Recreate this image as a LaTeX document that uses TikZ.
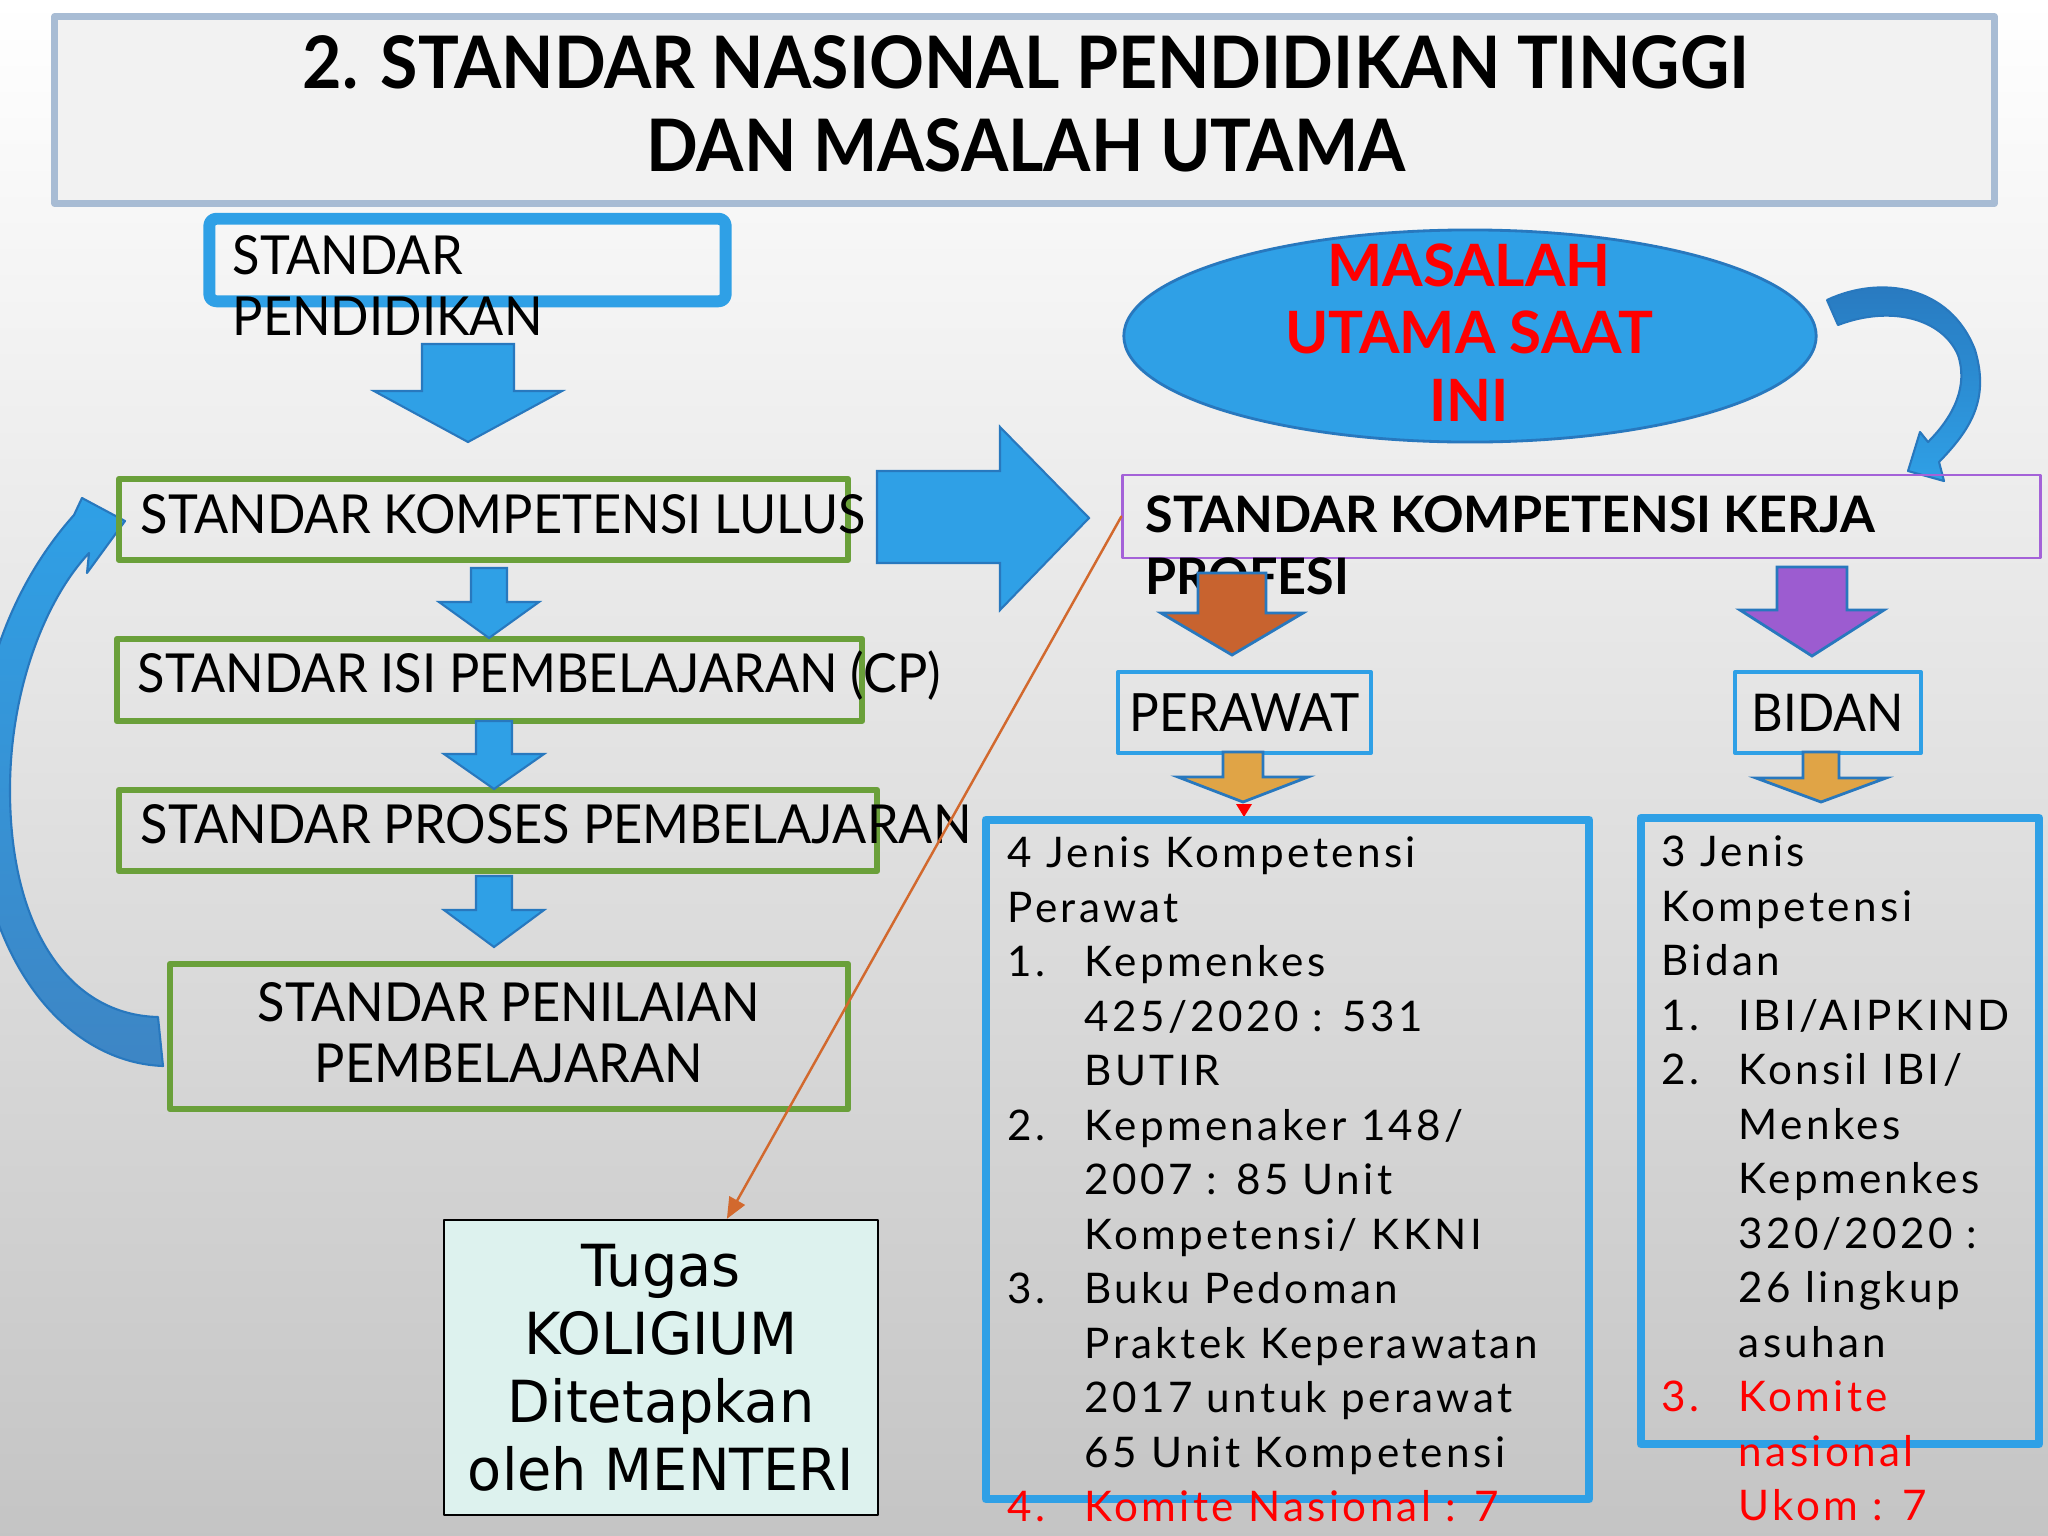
\documentclass[tikz,border=0pt]{standalone}
\usepackage{fontspec}
\setmainfont{Lato}
\newfontfamily\bodyfont{Lato}[FakeStretch=0.94]
\newfontfamily\listfont{Lato}[LetterSpace=8]
\newfontfamily\tugasfont{DejaVu Sans}[FakeStretch=0.96]
\usetikzlibrary{shapes.geometric,arrows.meta,calc}
\definecolor{biru}{HTML}{2FA0E6}
\definecolor{birutua}{HTML}{2878BE}
\definecolor{hijau}{HTML}{6AA03A}
\definecolor{judulbiru}{HTML}{A8BCD4}
\definecolor{oranye}{HTML}{C8632F}
\definecolor{ungu}{HTML}{9C5CD0}
\definecolor{emas}{HTML}{E0A446}
\definecolor{garisungu}{HTML}{A462D8}
\definecolor{mint}{HTML}{DDF2EE}
\definecolor{garisoranye}{HTML}{D2692E}
\tikzset{
	kotakhijau/.style={draw=hijau,line width=1.7pt,inner sep=0pt,outer sep=0pt},
	kotakbiru/.style={draw=biru,line width=1.1pt,inner sep=0pt,outer sep=0pt},
	kotakdaftar/.style={draw=biru,line width=2.4pt,inner sep=0pt,outer sep=0pt},
	teks/.style={inner sep=0pt,font=\bodyfont\fontsize{15.3}{17.4}\selectfont},
	daftar/.style={inner sep=0pt,align=left,font=\listfont\fontsize{12}{15.5}\selectfont},
	panahbiru/.style={fill=biru,draw=birutua,line width=0.6pt,line join=miter},
	panahoranye/.style={fill=oranye,draw=birutua,line width=0.8pt,line join=miter},
	panahungu/.style={fill=ungu,draw=birutua,line width=0.8pt,line join=miter},
	panahemas/.style={fill=emas,draw=birutua,line width=0.8pt,line join=miter}
}
\newcommand{\nomor}[1]{\makebox[21.9pt][l]{#1}}
\newcommand{\lanjut}{\hspace*{21.9pt}}
\begin{document}
\begin{tikzpicture}[x=0.01cm,y=-0.01cm,line join=round,line cap=round]
	\def\panah#1#2#3#4#5#6#7{% gaya, x tengah, atas, setengah batang, leher, setengah kepala, ujung
		\draw[#1] ({#2-#4},#3) -- ({#2+#4},#3) -- ({#2+#4},#5) -- ({#2+#6},#5) -- (#2,#7) -- ({#2-#6},#5) -- ({#2-#4},#5) -- cycle;}
	\useasboundingbox (0,0) rectangle (2048,1536);
	% latar
	\shade[top color=white,bottom color=black!23] (0,0) rectangle (2048,1536);
	% judul
	\node[draw=judulbiru,fill=black!5,line width=2pt,minimum width=19.38cm,minimum height=1.87cm,inner sep=0pt] (judul) at (1024.5,110) {};
	\node[anchor=north,inner sep=0pt,align=center,font=\bodyfont\bfseries\fontsize{20.6}{23.6}\selectfont] (judultxt) at (1026,35) {2. STANDAR NASIONAL PENDIDIKAN TINGGI\\DAN MASALAH UTAMA};
	% panah lengkung kiri
	\path[draw=birutua,line width=0.6pt,top color=biru,bottom color=birutua!90] (163,1066) .. controls (60,1062) and (-24,950) .. (-24,790) .. controls (-24,660) and (25,570) .. (74,515)
	-- (82,498) -- (125,521) -- (87,573) -- (89,553)
	.. controls (45,600) and (10,690) .. (10,790) .. controls (10,930) and (70,1015) .. (158,1017) -- cycle;
	% kotak kiri
	\node[draw=biru,line width=3.4pt,rounded corners=2pt,minimum width=5.16cm,minimum height=0.825cm,inner sep=0pt] (sp) at (467.5,260) {};
	\node[teks,anchor=north west,align=left] (sptxt) at (232,235) {STANDAR\\PENDIDIKAN};
	\node[kotakhijau,minimum width=7.29cm,minimum height=0.81cm] (skl) at (483.5,519.5) {};
	\node[teks,anchor=base west] (skltxt) at (140,533) {STANDAR KOMPETENSI LULUS};
	\node[kotakhijau,minimum width=7.45cm,minimum height=0.82cm] (isi) at (489.5,680) {};
	\node[teks,anchor=base west] (isitxt) at (137,692) {STANDAR ISI PEMBELAJARAN (CP)};
	\node[kotakhijau,minimum width=7.58cm,minimum height=0.81cm] (proses) at (498,830.5) {};
	\node[teks,anchor=base west] (prosestxt) at (140,843) {STANDAR PROSES PEMBELAJARAN};
	\node[kotakhijau,minimum width=6.78cm,minimum height=1.45cm] (nilai) at (509,1036.5) {};
	\node[teks,anchor=north,align=center] (nilaitxt) at (509,982) {STANDAR PENILAIAN\\PEMBELAJARAN};
	% panah turun kiri
	\panah{panahbiru}{468}{344}{46}{391}{94}{442}
	\panah{panahbiru}{489}{568}{18}{602}{50}{638}
	\panah{panahbiru}{494}{721}{18}{754}{50}{789}
	\panah{panahbiru}{494}{876}{18}{910}{50}{947}
	% panah besar ke kanan
	\draw[panahbiru] (877,471) -- (1000,471) -- (1000,427) -- (1089,518) -- (1000,610) -- (1000,563) -- (877,563) -- cycle;
	% masalah utama
	\node[ellipse,draw=birutua,fill=biru,line width=0.8pt,minimum width=6.92cm,minimum height=2.12cm,inner sep=0pt] (masalah) at (1470,336) {};
	\node[anchor=north,inner sep=0pt,align=center,text=red,font=\bfseries\fontsize{16.6}{19.2}\selectfont] (masalahtxt) at (1469,243) {MASALAH\\UTAMA SAAT\\INI};
	% panah lengkung kanan
	\path[draw=birutua,line width=0.6pt,top color=birutua,bottom color=biru] (1827,300) .. controls (1880,275) and (1950,285) .. (1975,350) .. controls (1990,400) and (1970,430) .. (1939,462)
	-- (1944,481) -- (1908,471) -- (1920,432) -- (1928,442)
	.. controls (1955,415) and (1968,385) .. (1958,355) .. controls (1942,318) and (1890,305) .. (1838,325) -- cycle;
	% standar kompetensi kerja
	\node[draw=garisungu,line width=0.8pt,minimum width=9.17cm,minimum height=0.83cm,inner sep=0pt] (skk) at (1581.5,516.5) {};
	\node[anchor=north west,inner sep=0pt,align=left,font=\bfseries\fontsize{14.3}{17.6}\selectfont] (skktxt) at (1145,495) {STANDAR KOMPETENSI KERJA\\PROFESI};
	\panah{panahoranye}{1232}{573}{34}{613}{71}{655}
	\panah{panahungu}{1812}{567}{35}{610}{72}{656}
	\node[kotakbiru,font=\bodyfont\fontsize{15}{18}\selectfont,minimum width=2.53cm,minimum height=0.81cm] (perawat) at (1244.5,712.5) {PERAWAT};
	\node[kotakbiru,font=\bodyfont\fontsize{14.8}{18}\selectfont,minimum width=1.86cm,minimum height=0.81cm] (bidan) at (1828,712.5) {BIDAN};
	\panah{panahemas}{1243}{752}{20}{777}{65}{802}
	\panah{panahemas}{1821}{752}{18}{778}{65}{802}
	\fill[red] (1236,804) -- (1252,804) -- (1244,817) -- cycle;
	% daftar perawat
	\node[kotakdaftar,minimum width=6.03cm,minimum height=6.79cm] (listp) at (1287.5,1159.5) {};
	\node[daftar,anchor=north west] (listptxt) at (1007,836) {4 Jenis Kompetensi\\Perawat\\
		\nomor{1.}Kepmenkes\\\lanjut 425/2020 : 531\\\lanjut BUTIR\\
		\nomor{2.}Kepmenaker 148/\\\lanjut 2007 : 85 Unit\\\lanjut Kompetensi/ KKNI\\
		\nomor{3.}Buku Pedoman\\\lanjut Praktek Keperawatan\\\lanjut 2017 untuk perawat\\\lanjut 65 Unit Kompetensi\\
		{\color{red}\nomor{4.}Komite Nasional : 7}};
	% daftar bidan
	\node[kotakdaftar,minimum width=3.98cm,minimum height=6.26cm] (listb) at (1840,1131) {};
	\node[daftar,anchor=north west] (listbtxt) at (1661,835) {3 Jenis\\Kompetensi\\Bidan\\
		\nomor{1.}IBI/AIPKIND\\
		\nomor{2.}Konsil IBI/\\\lanjut Menkes\\\lanjut Kepmenkes\\\lanjut 320/2020 :\\\lanjut 26 lingkup\\\lanjut asuhan\\
		{\color{red}\nomor{3.}Komite}\\{\color{red}\lanjut nasional}\\{\color{red}\lanjut Ukom : 7}};
	% tugas koligium
	\node[draw=black,fill=mint,line width=0.6pt,minimum width=4.34cm,minimum height=2.95cm,inner sep=0pt,align=center,font=\tugasfont\fontsize{16.5}{19.3}\selectfont] (tugas) at (661,1367.5) {Tugas\\KOLIGIUM\\Ditetapkan\\oleh MENTERI};
	\draw[garisoranye,line width=0.7pt,-{Triangle[length=6pt,width=5pt]}] (skk.west) -- ($(tugas.north west)!0.651!(tugas.north east)$);
\end{tikzpicture}
\end{document}
